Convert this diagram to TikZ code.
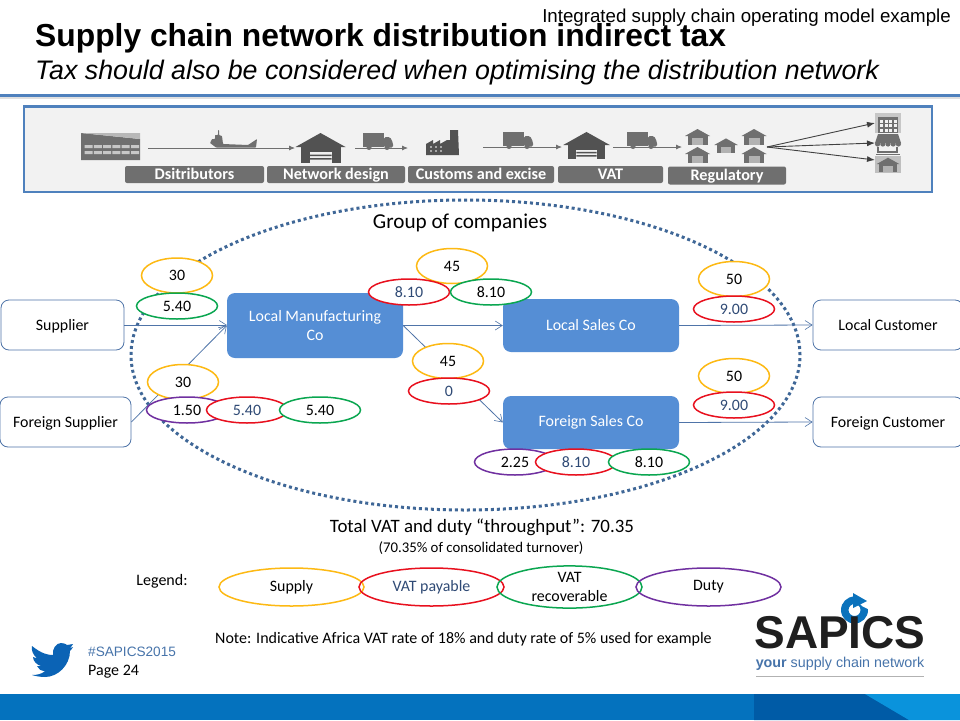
\documentclass[tikz,border=0pt]{standalone}
\usepackage{fontspec}
\setmainfont{Carlito}
\newfontfamily\lib{Liberation Sans}
\usetikzlibrary{arrows.meta,shapes.geometric}
\definecolor{bluebox}{HTML}{558ED5}
\definecolor{edgeblue}{HTML}{4F74A8}
\definecolor{ringblue}{HTML}{3F6797}
\definecolor{rulebl}{HTML}{4F81BD}
\definecolor{yel}{HTML}{FDB913}
\definecolor{grn}{HTML}{0AA650}
\definecolor{redd}{HTML}{E8101E}
\definecolor{pur}{HTML}{7030A0}
\definecolor{valblue}{HTML}{2F4A75}
\definecolor{igrey}{HTML}{6F6F6F}
\definecolor{barblue}{HTML}{0472BE}
\definecolor{bardark}{HTML}{005BA6}
\definecolor{barlite}{HTML}{0A93DC}
\definecolor{twit}{HTML}{0B63B5}
\newcommand{\fs}[1]{\fontsize{#1}{19.5}\selectfont}
\tikzset{
  x=1pt,y=-1pt,
  ent/.style={draw=edgeblue,line width=.8pt,rounded corners=8pt,fill=white,minimum height=50pt,inner sep=0pt,font=\fs{15.9},text=black,text height=13pt,text depth=3pt},
  co/.style={fill=bluebox,rounded corners=8pt,inner sep=0pt,text=white,font=\fs{15.9},align=center},
  conn/.style={draw=edgeblue,line width=.8pt,-{Straight Barb[length=7pt,width=9pt,line width=.6pt]}},
  ov/.style={ellipse,draw,fill=white,line width=1.5pt,inner sep=0pt,font=\fs{15.9},text=black},
  big/.style={ov,minimum width=71pt,minimum height=35pt},
  small/.style={ov,minimum width=81pt,minimum height=26pt},
  yl/.style={big,draw=yel},
  gn/.style={small,draw=grn},
  rd/.style={small,draw=redd,text=valblue},
  pr/.style={small,draw=pur},
  leg/.style={ov,minimum width=145pt,minimum height=38pt,fill=none,align=center,font=\fs{15.9}},
  tag/.style={fill=igrey,rounded corners=2pt,text=white,font=\fs{16.2}\bfseries,inner sep=0pt,minimum height=17pt,text height=12pt,text depth=3pt},
  iarrow/.style={draw=igrey,line width=.8pt,-{Latex[length=6pt,width=5pt]}},
  fanarrow/.style={draw=black!75,line width=.9pt,-{Latex[length=8pt,width=6pt]}},
}
\newcommand{\whouse}[4]{\begin{scope}[shift={(#1,#2)},scale=#3]
 \fill[#4] (-25,0) -- (0,-14) -- (25,0) -- cycle;
 \fill[#4] (-20,0) rectangle (20,15.5);
 \fill[black!6] (-11,5) rectangle (11,15.5);
 \fill[#4] (-11,7.5) rectangle (11,9) (-11,11) rectangle (11,12.5);
 \end{scope}}
\newcommand{\swh}[3]{\begin{scope}[shift={(#1,#2)},scale=#3]
 \fill[igrey] (-25,0) -- (0,-14) -- (25,0) -- cycle;
 \fill[igrey] (-20,0) rectangle (20,17);
 \fill[black!30] (-11,4) rectangle (11,17);
 \end{scope}}
\newcommand{\truck}[3]{\begin{scope}[shift={(#1,#2)},scale=#3]
 \fill[igrey] (-15,-7) rectangle (6,7);
 \fill[igrey,rounded corners=1.5pt] (6,-3) -- (12,-3) -- (15,3) -- (15,7.5) -- (6,7.5) -- cycle;
 \fill[igrey] (-9,7.5) circle (2.5) (9,7.5) circle (2.5);
 \end{scope}}
\begin{document}
\begin{tikzpicture}
\useasboundingbox (0,0) rectangle (960,720);
\fill[white] (0,0) rectangle (960,720);
% header
\node[anchor=base west,inner sep=0pt,font=\lib\bfseries\fs{31.8}] (title) at (35,46.5) {Supply chain network distribution indirect tax};
\node[anchor=base east,inner sep=0pt,font=\lib\fs{18.7}] (crumb) at (951,22.5) {Integrated supply chain operating model example};
\node[anchor=base west,inner sep=0pt,font=\lib\itshape\fs{26.8}] (sub) at (35,79) {Tax should also be considered when optimising the distribution network};
\fill[black!12] (0,97) rectangle (960,99);
\fill[rulebl] (0,93.5) rectangle (960,97);
% panel
\draw[rulebl,line width=2.4pt,fill=black!5] (24,106.5) rectangle (932,192);
\node[tag,minimum width=139pt] (t1) at (194.5,174.5) {Dsitributors};
\node[tag,minimum width=138pt] (t2) at (336,174.5) {Network design};
\node[tag,minimum width=146pt] (t3) at (481,174.5) {Customs and excise};
\node[tag,minimum width=105pt] (t4) at (610.5,174.5) {VAT};
\node[tag,minimum width=118pt,minimum height=18pt] (t5) at (727,175.5) {Regulatory};
% icons
\fill[igrey] (81,133) -- (140,139) -- (140,160) -- (81,160) -- cycle;
\fill[black!28] (81,133) -- (140,133) -- (140,139) -- cycle;
\foreach \i in {0,...,5}{\fill[black!22] (84.5+\i*9.3,145) rectangle +(8,3.2) (84.5+\i*9.3,151) rectangle +(8,3.2);}
\fill[igrey,rounded corners=.6pt] (210,143) -- (212,139) -- (215,139) -- (215,135) -- (218,135) -- (218,130) -- (219,130) -- (219,135) -- (222,136) -- (223,144) -- (248,145) -- (257,139) -- (256,147.5) -- (216,147.5) -- cycle;
\whouse{320.5}{147}{1}{black!68}
\truck{378}{140}{1}
\fill[black!68] (426,155) -- (426,144) -- (433,140) -- (433,144) -- (440,140) -- (440,144) -- (447,140) -- (450,140) -- (450,130) -- (458,130) -- (459,155) -- cycle;
\foreach \px in {431,436,441}{\fill[white] (\px,147) circle (.9) (\px,151) circle (.9);}
\truck{518}{139}{1}
\whouse{586.5}{145}{.93}{black!68}
\truck{642}{139}{1}
\swh{697.5}{136}{.5}
\swh{754}{136}{.5}
\swh{726}{145}{.47}
\swh{697.5}{154}{.5}
\swh{754}{154}{.5}
\fill[black!22] (875,113) rectangle (901,133);
\fill[igrey] (878,117) rectangle (898,133);
\foreach \a in {0,1,2,3}{\foreach \b in {0,1,2}{\fill[black!5] (880+\a*4.5,119.5+\b*4.5) rectangle +(3,3);}}
\fill[igrey] (878,134) -- (898,134) -- (901,143) -- (875,143) -- cycle;
\foreach \a in {0,1,2,3,4}{\fill[igrey] (877.6+\a*5.2,144) circle (2.6);}
\draw[igrey,line width=1.2pt] (878,147) -- (878,152) -- (897,152) -- (897,147);
\draw[igrey,line width=.8pt] (876,154) -- (900,154);
\fill[black!25] (875,156) rectangle (901,173);
\swh{888}{164}{.45}
% arrows in the panel
\coordinate (s1) at (148,148);\coordinate (e1) at (295,148);
\coordinate (s2) at (355,148);\coordinate (e2) at (408,148);
\coordinate (s3) at (483,147);\coordinate (e3) at (562,147);
\coordinate (s4) at (613,147);\coordinate (e4) at (682,147);
\coordinate (f0) at (767,147);
\coordinate (f1) at (875,123);\coordinate (f2) at (875,143);\coordinate (f3) at (875,160);
\draw[iarrow] (s1) -- (e1);
\draw[iarrow] (s2) -- (e2);
\draw[iarrow] (s3) -- (e3);
\draw[iarrow] (s4) -- (e4);
\draw[fanarrow] (f0) -- (f1);
\draw[fanarrow] (f0) -- (f2);
\draw[fanarrow] (f0) -- (f3);
% group
\node[ellipse,draw=ringblue,line width=3pt,dash pattern=on 3pt off 3pt,minimum width=669pt,minimum height=310pt,inner sep=0pt] (grp) at (465.5,355) {};
\node[font=\fs{21.2},inner sep=0pt] (glabel) at (460,222.5) {Group of companies};
% entities
\node[ent,minimum width=123pt] (sup) at (62.5,325) {Supplier};
\node[ent,minimum width=131pt] (fsup) at (65.5,422) {Foreign Supplier};
\node[ent,minimum width=150pt] (lc) at (888,325) {Local Customer};
\node[ent,minimum width=150pt] (fc) at (888,422) {Foreign Customer};
\node[co,minimum height=65pt,minimum width=176pt] (lm) at (315,325.5) {Local Manufacturing\\Co};
\node[co,minimum height=53pt,minimum width=176pt] (ls) at (591,325.5) {Local Sales Co};
\node[co,minimum height=53pt,minimum width=176pt] (fs) at (591,422.5) {Foreign Sales Co};
% connectors
\draw[conn] (sup.east) -- (sup.east -| lm.west);
\draw[conn] (fsup.east) -- (lm.west);
\draw[conn] (lm.east) -- (ls.west);
\draw[conn] (lm.east) -- (fs.west);
\draw[conn] (ls.east) -- (lc.west);
\draw[conn] (fs.east) -- (fc.west);
% value ovals
\node[yl] (a1) at (177,275.5) {30};
\node[gn] (a2) at (177,306) {5.40};
\node[yl] (b1) at (183,382) {30};
\node[pr] (b2) at (187,410) {1.50};
\node[rd] (b3) at (247,410) {5.40};
\node[gn] (b4) at (320,410) {5.40};
\node[yl] (c1) at (452,266) {45};
\node[rd] (c2) at (409,292) {8.10};
\node[gn] (c3) at (491,292) {8.10};
\node[yl] (d1) at (448,361) {45};
\node[rd] (d2) at (449,391) {0};
\node[yl] (e1n) at (734,279) {50};
\node[rd] (e2n) at (734,309) {9.00};
\node[yl] (g1) at (734,376) {50};
\node[rd] (g2) at (734,405) {9.00};
\node[pr] (h1) at (515,462) {2.25};
\node[rd] (h2) at (576,462) {8.10};
\node[gn] (h3) at (649,462) {8.10};
% totals
\node[font=\fs{18.9},inner sep=0pt] (tot) at (482,527) {Total VAT and duty “throughput”: 70.35};
\node[font=\fs{14.8},inner sep=0pt] (tot2) at (481,548) {(70.35\% of consolidated turnover)};
% legend
\node[font=\fs{16},inner sep=0pt] (lg) at (162,581) {Legend:};
\node[leg,draw=yel] (l1) at (291.5,587) {Supply};
\node[leg,draw=redd,text=valblue] (l2) at (431.5,587) {VAT payable};
\node[leg,draw=grn] (l3) at (569.5,587) {VAT\\recoverable};
\node[leg,draw=pur] (l4) at (708.5,587) {Duty};
\node[font=\fs{16},anchor=west,inner sep=0pt] (note) at (215,639) {Note: Indicative Africa VAT rate of 18\% and duty rate of 5\% used for example};
% footer
\fill[twit] (32,646) .. controls (42,654) and (48,655) .. (53,655) .. controls (52,649) and (56,643) .. (61,643) .. controls (64,643) and (66,644) .. (67,645) .. controls (69,645) and (71,644) .. (73,644) .. controls (72,646) and (71,647) .. (70,648) .. controls (71,648) and (72,648) .. (73,647) .. controls (72,649) and (71,650) .. (70,651) .. controls (70,665) and (58,677) .. (45,677) .. controls (40,677) and (35,676) .. (32,675) .. controls (37,675) and (42,674) .. (45,671) .. controls (41,671) and (38,669) .. (37,666) .. controls (39,666) and (40,666) .. (41,666) .. controls (37,665) and (33,661) .. (33,657) .. controls (35,658) and (36,658) .. (37,658) .. controls (33,655) and (31,650) .. (32,646) -- cycle;
\node[anchor=base west,inner sep=0pt,font=\lib\fs{13.6},text=rulebl!90!black] (tag) at (88,656) {\#SAPICS2015};
\node[anchor=base west,inner sep=0pt,font=\fs{16}] (page) at (88,675) {Page 24};
\fill[barblue] (0,694) rectangle (960,720);
\fill[bardark] (754,694) -- (865,694) -- (909,720) -- (754,720) -- cycle;
\fill[barlite] (865,694) -- (960,694) -- (960,720) -- (909,720) -- cycle;
% logo
\fill[twit!90!cyan,even odd rule] (854.5,610) circle (13.5) (854.5,610) circle (6);
\fill[white] (854,597) -- (870,597) -- (870,610) -- (862,606) -- cycle;
\fill[twit!90!cyan] (853,593) -- (867,601) -- (853,608) -- cycle;
\node[anchor=base,inner sep=0pt,font=\lib\bfseries\fs{46},text=black!88] (sap) at (840,648) {SAPICS};
\node[anchor=base,inner sep=0pt,font=\lib\fs{14.3},text=rulebl!90!black] (ys) at (840,667) {\textbf{your} supply chain network};
\draw[black!30,line width=.8pt] (756,676.5) -- (924,676.5);
\end{tikzpicture}
\end{document}
